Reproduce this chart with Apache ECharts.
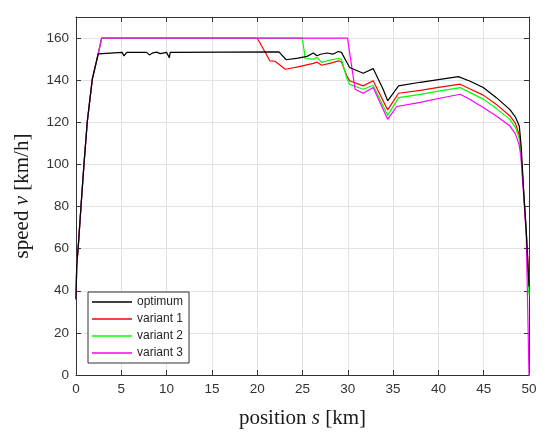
<!DOCTYPE html>
<html>
<head>
<meta charset="utf-8">
<script src="https://cdn.jsdelivr.net/npm/echarts@6/dist/echarts.min.js"></script>
<style>
html,body{margin:0;padding:0;background:#fff;}
#c{width:550px;height:441px;}
</style>
</head>
<body>
<div id="c"></div>
<script>
// shared acceleration phase (km, km/h)
var startX = [0, 0.08, 0.25, 0.55, 0.88, 1.25, 1.8, 2.45];
var startV = [36, 52, 61, 80, 100, 120.5, 140.5, 152.5];

// optimum
var optX = [5.1, 5.3, 5.5, 5.6, 7.8, 8.1, 8.5, 8.9, 9.3, 10.0, 10.3, 10.4, 22.4, 23.2, 24.5, 25.5, 26.2, 26.6, 27.0, 27.7, 28.4, 28.95, 29.3, 29.9, 30.2, 31.7, 32.8, 33.9, 34.4, 35.6, 38.0, 40.0, 42.2, 43.5, 44.95, 46.4, 47.9, 48.5, 48.93, 49.15, 49.4, 49.7, 50];
var optV = [153.2, 151.5, 150.6, 153.2, 153.2, 152, 153, 153.3, 152.6, 153.2, 150.6, 153.2, 153.4, 149.7, 150.5, 151.3, 152.9, 151.6, 152.3, 152.9, 152.4, 153.6, 153.2, 148.4, 146, 143.3, 145.5, 135.7, 130.2, 137.3, 139, 140.3, 141.7, 139.5, 136.5, 131.7, 126, 122.5, 118.2, 108, 88, 68, 42];

// variant 1
var v1X = [2.83, 20.0, 21.4, 21.96, 23.1, 24.5, 26.2, 26.6, 27.1, 28.0, 29.0, 29.3, 29.9, 30.2, 31.7, 32.8, 34.4, 35.6, 38, 40, 42.4, 43.5, 44.95, 46.4, 47.9, 48.5, 48.9, 49.1, 49.4, 49.7, 50];
var v1V = [160, 160, 149.2, 149, 145.2, 146.3, 148, 148.6, 147.1, 148, 149.2, 148.6, 142, 139.7, 137.3, 139.7, 125.9, 133.8, 135.2, 136.6, 138.1, 135.8, 132.9, 128.5, 123, 119.5, 114.3, 107, 88, 68, 45];

// variant 2
var v2X = [2.83, 24.98, 25.3, 26.2, 26.6, 27.1, 28.0, 29.0, 29.3, 29.9, 30.2, 31.7, 32.8, 34.4, 35.6, 38, 40, 42.4, 43.5, 44.95, 46.4, 47.9, 48.5, 48.9, 49.1, 49.4, 49.7, 50];
var v2V = [160, 160, 150.3, 150, 150.8, 148.4, 149.5, 150.3, 149.8, 140.8, 138, 135.7, 137.6, 123.3, 131.7, 133.3, 134.8, 136.5, 134.1, 131, 126.5, 121.4, 117.5, 112.7, 106, 88, 68, 38];

// variant 3
var v3X = [2.83, 29.97, 30.8, 31.7, 32.8, 34.4, 35.4, 38, 40, 42.4, 43.5, 44.95, 46.4, 47.9, 48.5, 48.9, 49.1, 49.4, 49.7, 50];
var v3V = [160, 160, 135.7, 133.8, 136.5, 121.4, 127.5, 129.5, 131.3, 133.3, 130.8, 127, 123, 118.2, 114.5, 109.5, 104, 86, 66, 0];

var seriesNames = ['optimum', 'variant 1', 'variant 2', 'variant 3'];
var seriesColors = ['#000000', '#ff0000', '#00ff00', '#ff00ff'];
var xTicks = [0, 5, 10, 15, 20, 25, 30, 35, 40, 45, 50];
var yTicks = [0, 20, 40, 60, 80, 100, 120, 140, 160];

function pairs(xs, vs) {
  var xa = startX.concat(xs), va = startV.concat(vs), out = [];
  for (var i = 0; i < xa.length; i++) out.push([xa[i], va[i]]);
  return out;
}
var seriesData = [pairs(optX, optV), pairs(v1X, v1V), pairs(v2X, v2V), pairs(v3X, v3V)];

var axisColor = '#333333';
var gridColor = '#e2e2e2';
var tickFont = {color: '#333', fontFamily: 'Liberation Sans, Arial, sans-serif', fontSize: 13.5};

function baseAxis(isX, pos, showLabel) {
  var ticks = isX ? xTicks : yTicks;
  return {
    type: 'value',
    position: pos,
    min: 0,
    max: isX ? 50 : 170,
    interval: isX ? 5 : 20,
    axisLine: {show: true, onZero: false, lineStyle: {color: axisColor, width: 1}},
    axisTick: {show: true, inside: true, length: 5, lineStyle: {color: axisColor}},
    splitLine: {show: showLabel, lineStyle: {color: gridColor, width: 1}},
    axisLabel: Object.assign({
      show: showLabel,
      margin: isX ? 7 : 7,
      formatter: function (v) { return ticks.indexOf(v) >= 0 ? String(v) : ''; }
    }, tickFont)
  };
}

var xMain = baseAxis(true, 'bottom', true);
xMain.name = '{n|position }{i|s}{n| [km]}';
xMain.nameLocation = 'middle';
xMain.nameGap = 33;
xMain.nameTextStyle = {
  rich: {
    n: {fontFamily: 'Liberation Serif, serif', fontSize: 21, color: '#1a1a1a'},
    i: {fontFamily: 'Liberation Serif, serif', fontSize: 21, fontStyle: 'italic', color: '#1a1a1a'}
  }
};
var yMain = baseAxis(false, 'left', true);
yMain.name = '{n|speed }{i|v}{n| [km/h]}';
yMain.nameLocation = 'middle';
yMain.nameGap = 43;
yMain.nameRotate = 90;
yMain.nameTextStyle = {
  rich: {
    n: {fontFamily: 'Liberation Serif, serif', fontSize: 21, color: '#1a1a1a'},
    i: {fontFamily: 'Liberation Serif, serif', fontSize: 21, fontStyle: 'italic', color: '#1a1a1a'}
  }
};

var series = seriesNames.map(function (n, i) {
  return {
    name: n,
    type: 'line',
    xAxisIndex: 0,
    yAxisIndex: 0,
    data: seriesData[i],
    showSymbol: false,
    symbol: 'none',
    z: i === 0 ? 5 : 2 + i * 0.1,
    lineStyle: {color: seriesColors[i], width: 1.2},
    itemStyle: {color: seriesColors[i]}
  };
});

var chart = echarts.init(document.getElementById('c'), null, {renderer: 'canvas'});
chart.setOption({
  animation: false,
  backgroundColor: '#ffffff',
  grid: {left: 76, right: 21, top: 17, bottom: 66, containLabel: false},
  xAxis: [xMain, baseAxis(true, 'top', false)],
  yAxis: [yMain, baseAxis(false, 'right', false)],
  legend: {
    data: seriesNames,
    orient: 'vertical',
    left: 88,
    top: 292,
    padding: [3, 6, 3, 4],
    itemWidth: 40,
    itemHeight: 1.5,
    itemGap: 3,
    icon: 'rect',
    backgroundColor: '#ffffff',
    borderColor: '#333333',
    borderWidth: 1,
    borderRadius: 0,
    textStyle: {fontFamily: 'Liberation Sans, Arial, sans-serif', fontSize: 12, color: '#262626', lineHeight: 14}
  },
  series: series
});
</script>
</body>
</html>
